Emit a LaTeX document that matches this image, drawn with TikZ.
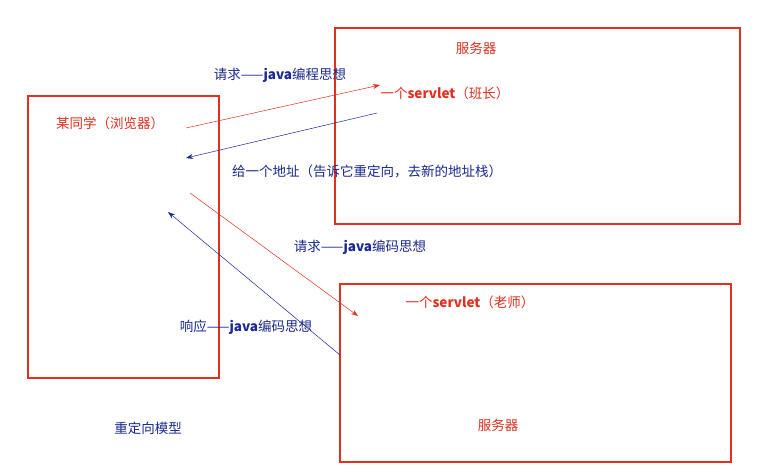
\documentclass[tikz,border=0pt]{standalone}
\usepackage{fontspec}
\setmainfont{Noto Sans CJK SC}
\usetikzlibrary{arrows.meta}
\definecolor{rd}{HTML}{E03020}
\definecolor{bl}{HTML}{1A2A90}
\begin{document}
\begin{tikzpicture}[x=1pt,y=-1pt,
  box/.style={draw=rd,line width=1.3pt},
  rt/.style={text=rd,font=\fontsize{13.5}{15}\selectfont},
  bt/.style={text=bl,font=\fontsize{13.5}{15}\selectfont},
  ra/.style={draw=rd,-{Stealth[length=7pt,width=5pt]},line width=0.5pt},
  ba/.style={draw=bl,-{Stealth[length=7pt,width=5pt]},line width=0.5pt}]
\useasboundingbox[fill=white] (0,0) rectangle (759,472);
\draw[box] (28,96) rectangle (219,378);
\draw[box] (335,28) rectangle (740,224);
\draw[box] (340,284) rectangle (731,462);
\node[rt] (s1) at (476,48) {服务器};
\node[bt] (q1) at (280,75) {请求——\textbf{java}编程思想};
\node[rt] (sv1) at (445,93) {一个\textbf{servlet}（班长）};
\node[rt] (br) at (110,123) {某同学（浏览器）};
\node[bt] (g) at (367,171) {给一个地址（告诉它重定向，去新的地址栈）};
\node[bt] (q2) at (360,247) {请求——\textbf{java}编码思想};
\node[rt] (sv2) at (470,302) {一个\textbf{servlet}（老师）};
\node[bt] (r) at (246,327) {响应——\textbf{java}编码思想};
\node[bt] (m) at (148,428) {重定向模型};
\node[rt] (s2) at (498,425) {服务器};
\coordinate (a1) at (186,128); \coordinate (a2) at (380,85);
\coordinate (b1) at (377,113); \coordinate (b2) at (186,158);
\coordinate (c1) at (190,193); \coordinate (c2) at (358,316);
\coordinate (d1) at (340,355); \coordinate (d2) at (168,212);
\draw[ra] (a1) -- (a2);
\draw[ba] (b1) -- (b2);
\draw[ra] (c1) -- (c2);
\draw[ba] (d1) -- (d2);
\end{tikzpicture}
\end{document}
